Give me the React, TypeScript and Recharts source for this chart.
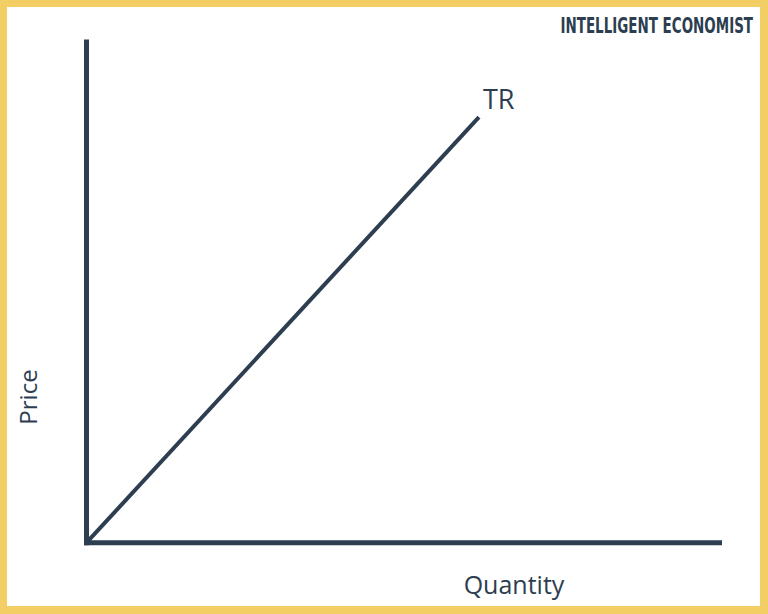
import React from 'react';
import { LineChart, Line, XAxis, YAxis, Label } from 'recharts';

const quantities = [0, 62];
const revenue = [0, 85];
const seriesName = 'TR';
const xTitle = 'Quantity';
const yTitle = 'Price';
const brand = 'INTELLIGENT ECONOMIST';

const data = quantities.map((q, i) => ({ q, tr: revenue[i] }));

const INK = '#2C3E50';
const FONT = '"Open Sans", "Noto Sans", sans-serif';

const TrLabel = (props: any) => {
  const { x, y, index } = props;
  if (index !== data.length - 1) return null;
  return (
    <text x={x + 4} y={y - 8} fill={INK} fontFamily={FONT} fontSize={27} fontWeight={400}>
      {seriesName}
    </text>
  );
};

export default function App() {
  return (
    <div
      style={{
        position: 'absolute',
        left: 0,
        top: 0,
        width: 768,
        height: 614,
        background: '#fff',
        boxSizing: 'border-box',
        borderTop: '7px solid #F2CE65',
        borderLeft: '7px solid #F2CE65',
        borderRight: '8px solid #F2CE65',
        borderBottom: '8px solid #F2CE65',
      }}
    >
      <div style={{ position: 'absolute', left: -7, top: -7 }}>
        <LineChart
          width={768}
          height={614}
          data={data}
          margin={{ top: 42, left: 66.5, right: 48.5, bottom: 51.3 }}
        >
          <XAxis
            dataKey="q"
            type="number"
            domain={[0, 100]}
            tick={false}
            tickLine={false}
            height={20}
            axisLine={{ stroke: INK, strokeWidth: 5, strokeLinecap: 'square' }}
          >
            <Label
              content={() => (
                <text x={514} y={594} textAnchor="middle" fill={INK} fontFamily={FONT} fontSize={25}>
                  {xTitle}
                </text>
              )}
            />
          </XAxis>
          <YAxis
            type="number"
            domain={[0, 100]}
            tick={false}
            tickLine={false}
            width={20}
            axisLine={{ stroke: INK, strokeWidth: 5, strokeLinecap: 'square' }}
          >
            <Label
              content={() => (
                <text
                  x={37}
                  y={397}
                  transform="rotate(-90 37 397)"
                  textAnchor="middle"
                  fill={INK}
                  fontFamily={FONT}
                  fontSize={24}
                >
                  {yTitle}
                </text>
              )}
            />
          </YAxis>
          <Line
            dataKey="tr"
            stroke={INK}
            strokeWidth={4}
            dot={false}
            isAnimationActive={false}
            label={<TrLabel />}
          />
        </LineChart>
      </div>
      <svg
        width={768}
        height={614}
        style={{ position: 'absolute', left: -7, top: -7, pointerEvents: 'none' }}
      >
        <text
          transform="translate(753 33) scale(0.68 1)"
          x={0}
          y={0}
          textAnchor="end"
          fill={INK}
          fontFamily='"DejaVu Sans Condensed", "Liberation Sans Narrow", sans-serif'
          fontWeight={700}
          fontSize={22}
        >
          {brand}
        </text>
      </svg>
    </div>
  );
}
